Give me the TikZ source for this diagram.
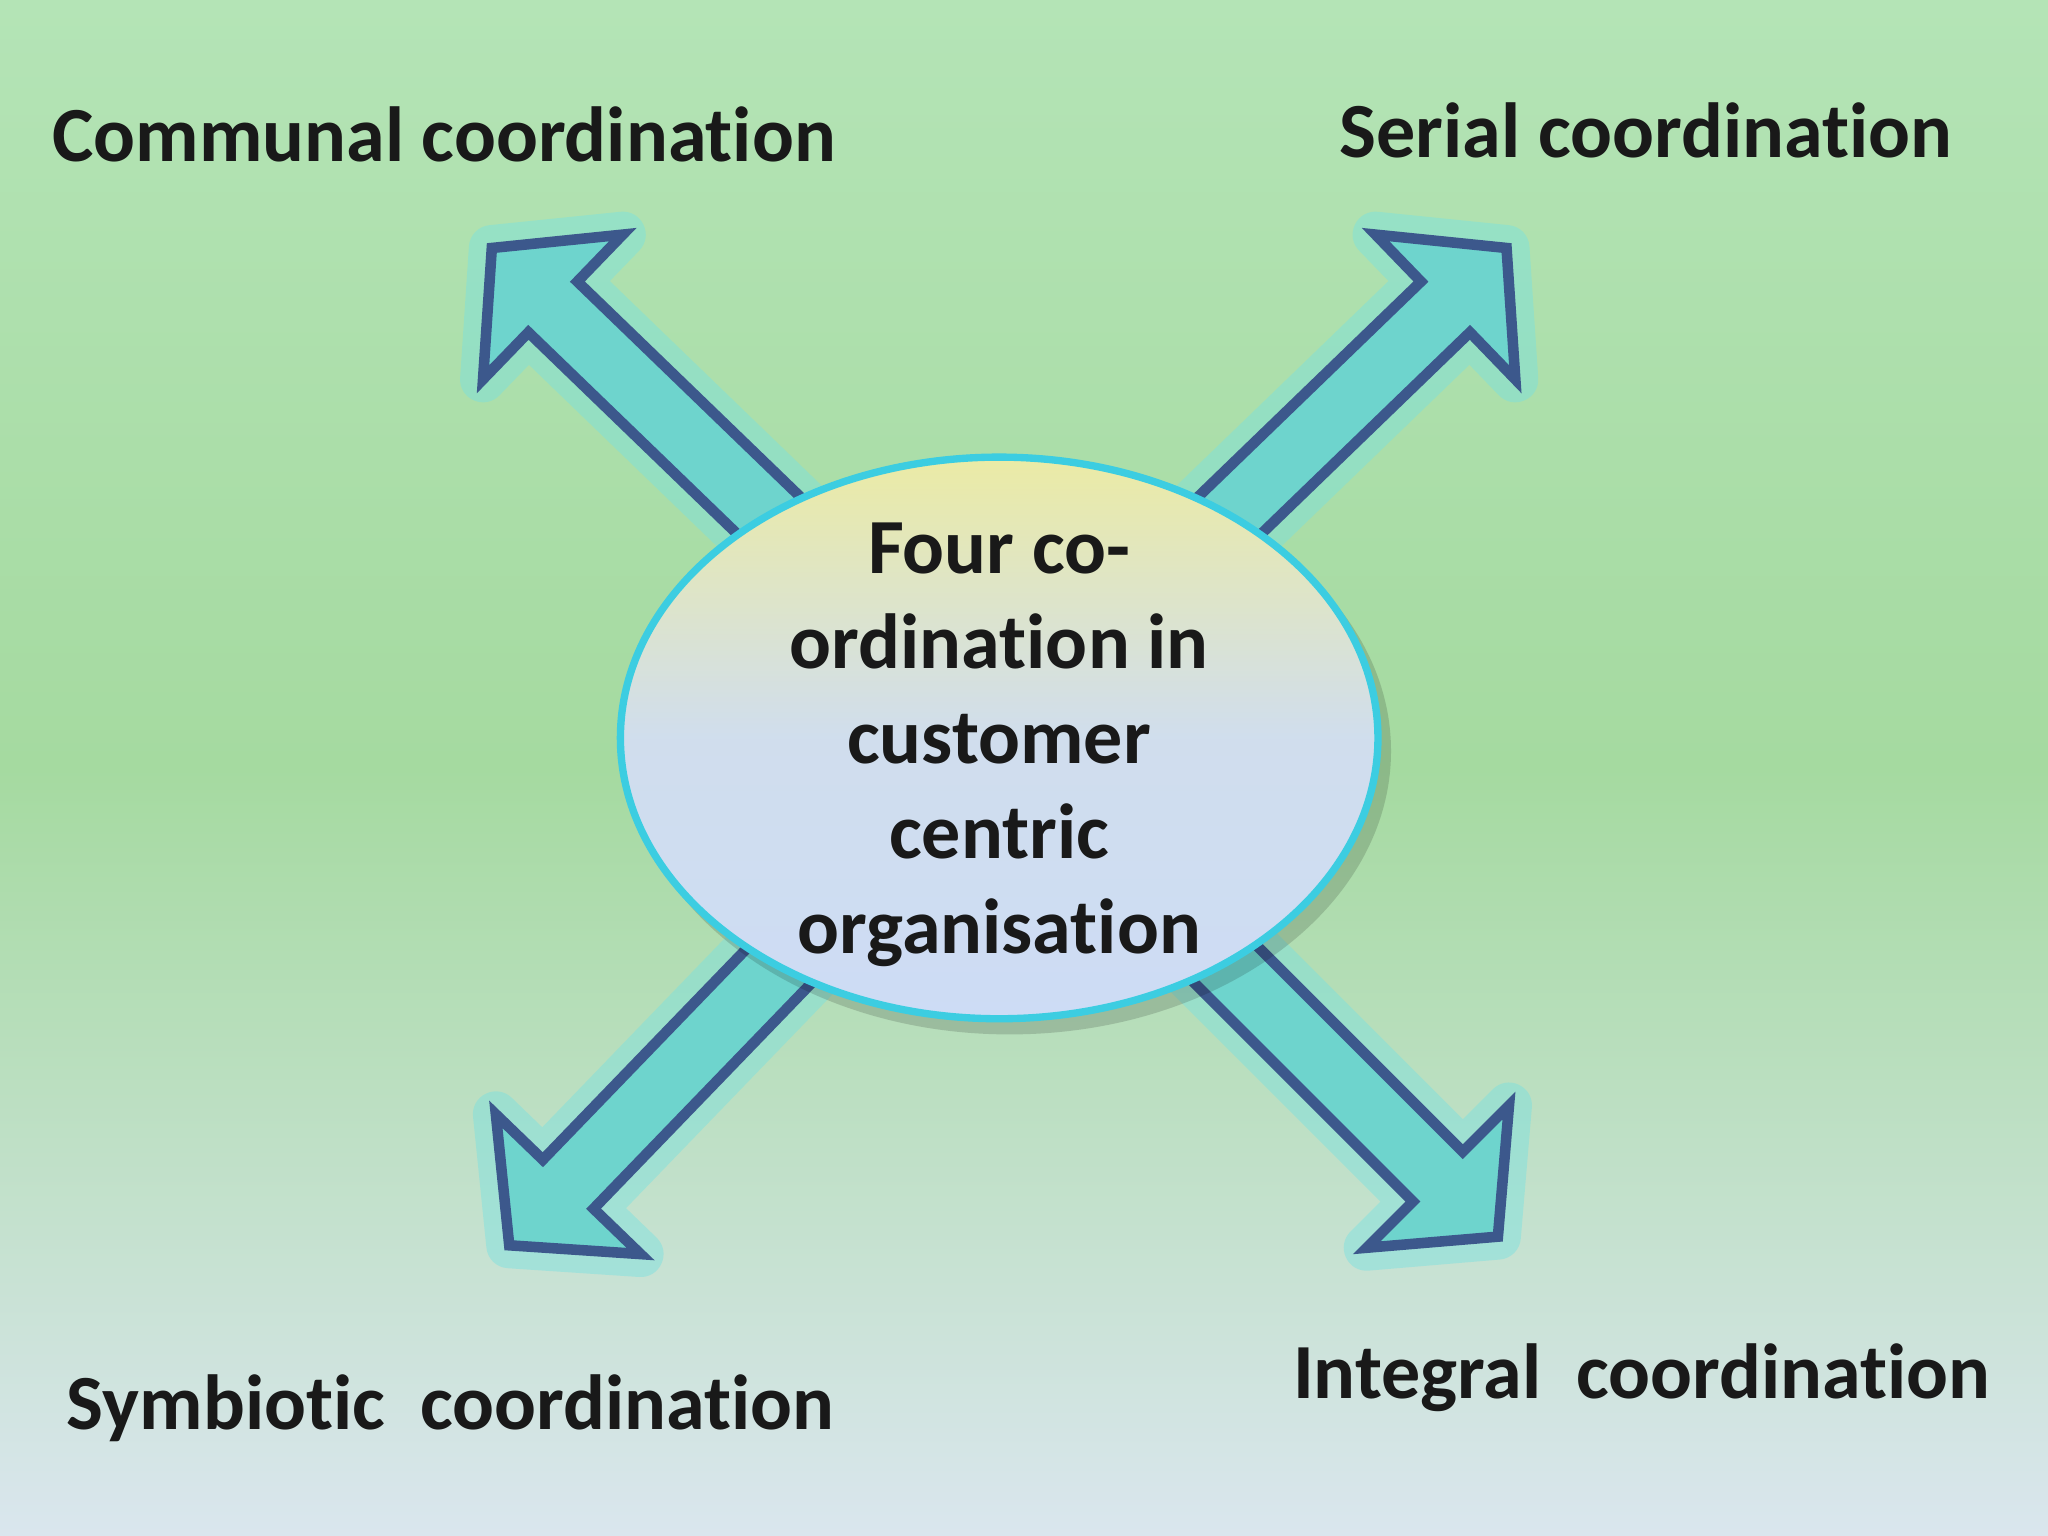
\documentclass[tikz,border=0pt]{standalone}
\usepackage{fontspec}
\setmainfont{Carlito}[Ligatures={NoCommon,NoRare,NoDiscretionary}]
\definecolor{bgtop}{RGB}{180,228,182}
\definecolor{bgmid}{RGB}{165,218,160}
\definecolor{bgbot}{RGB}{218,230,238}
\definecolor{arrfill}{RGB}{110,212,205}
\definecolor{arrline}{RGB}{60,88,140}
\definecolor{glow}{RGB}{120,225,225}
\definecolor{ringc}{RGB}{60,205,225}
\definecolor{eltop}{RGB}{235,235,165}
\definecolor{elbot}{RGB}{205,220,245}
\tikzset{
  lbl/.style={font=\fontsize{17}{20}\selectfont\bfseries, text=black!90},
  bigarrow/.style={fill=arrfill, draw=arrline, line width=2.3pt, line join=miter},
  glowpath/.style={draw=glow, opacity=0.45, line width=10pt, line join=round},
}
\newcommand{\arrowshape}{(0,27) -- (475,27) -- (475,77) -- (540,0) -- (475,-77) -- (475,-27) -- (0,-27) -- cycle}
\begin{document}
\begin{tikzpicture}[x=0.01cm,y=0.01cm]
\shade[top color=bgtop, bottom color=bgbot, middle color=bgmid] (0,0) rectangle (1568,1176);
\useasboundingbox (0,0) rectangle (1568,1176);
\coordinate (c) at (765,611);
\foreach \a in {136,44,226,-45}{
  \begin{scope}[shift={(c)}, rotate=\a]
    \path[glowpath] \arrowshape;
    \path[bigarrow] \arrowshape;
  \end{scope}
}
\fill[black, opacity=0.15] (c) ++(8,-10) ellipse (292 and 217);
\shade[top color=eltop, bottom color=elbot, middle color=elbot!90!eltop] (c) ellipse (290 and 215);
\draw[ringc, line width=1.6pt] (c) ellipse (290 and 215);
\node[lbl, align=center, font=\fontsize{17}{20.7}\selectfont\bfseries] (center) at (765,606)
  {Four co-\\ordination in\\customer\\centric\\organisation};
\node[lbl] (comm) at (340,1073) {Communal coordination};
\node[lbl] (ser) at (1260,1076) {Serial coordination};
\node[lbl] (sym) at (345,98) {Symbiotic\ \ coordination};
\node[lbl] (int) at (1257,121) {Integral\ \ coordination};
\end{tikzpicture}
\end{document}
